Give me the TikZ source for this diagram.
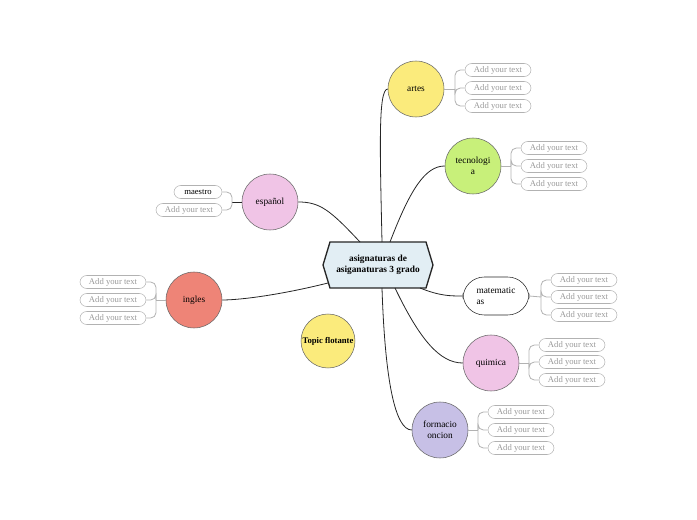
\documentclass[tikz,border=0pt]{standalone}
\usepackage{fontspec}
\setmainfont{Liberation Serif}
\begin{document}
\begin{tikzpicture}[x=0.75pt,y=-0.75pt,
 topic/.style={circle,draw=gray!80!black,minimum size=56*0.75pt,inner sep=0pt,font=\fontsize{7}{8}\selectfont,align=center},
 addbox/.style={draw=gray!60,rounded corners=5pt,minimum width=66*0.75pt,minimum height=13*0.75pt,inner sep=0pt,text=gray!80,font=\fontsize{6.5}{7}\selectfont},
 conn/.style={draw=gray!30!black,line width=0.6pt},
 br/.style={draw=gray!60,line width=0.6pt,rounded corners=4pt}]
\useasboundingbox (0,0) rectangle (697,520);
\definecolor{cyell}{HTML}{FBEB7C}\definecolor{cgreen}{HTML}{C8F07A}\definecolor{cpink}{HTML}{F0C4E6}
\definecolor{cred}{HTML}{EE8477}\definecolor{clav}{HTML}{C7C0E6}\definecolor{chex}{HTML}{E2EEF4}
\draw[fill=chex,draw=gray!30!black,line width=1pt] (330,242)--(426,242)--(433,265)--(426,288)--(330,288)--(323,265)--cycle;
\node[font=\bfseries\fontsize{7}{8}\selectfont,align=center] (c) at (378,265) {asignaturas de\\asiganaturas 3 grado};
\node[topic,fill=cyell] (ar) at (416,89) {artes};
\node[topic,fill=cgreen] (te) at (473,166) {tecnologi\\a};
\node[topic,fill=cpink] (es) at (270,202) {español};
\node[topic,fill=cred] (in) at (194,300) {ingles};
\node[draw=gray!30!black,rounded corners=16pt,minimum width=66*0.75pt,minimum height=38*0.75pt,fill=white,font=\fontsize{7}{8}\selectfont,align=left] (ma) at (496,296) {matematic\\as};
\node[topic,fill=cpink] (qu) at (491,363) {quimica};
\node[topic,fill=clav] (fo) at (440,430) {formacio\\oncion};
\node[topic,fill=cyell,minimum size=54*0.75pt,font=\bfseries\fontsize{6.5}{7}\selectfont] (tf) at (328,341) {Topic flotante};
\draw[conn] (382,242) .. controls (380,150) and (378,89) .. (ar.west);
\draw[conn] (390,242) .. controls (410,190) and (425,166) .. (te.west);
\draw[conn] (360,242) .. controls (330,210) and (320,202) .. (es.east);
\draw[conn] (328,283) .. controls (280,295) and (240,300) .. (in.east);
\draw[conn] (420,288) .. controls (440,296) and (450,296) .. (ma.west);
\draw[conn] (395,288) .. controls (420,340) and (440,363) .. (qu.west);
\draw[conn] (382,288) .. controls (385,380) and (395,430) .. (fo.west);
\foreach \n/\x/\ys/\cy/\o in {a/498/{70,88,106}/89/ar, t/554/{148,166,184}/166/te, m/584/{280,297,315}/297/ma, q/572/{345,362,380}/363/qu, f/521/{412,430,448}/430/fo}{
 \foreach \y [count=\i] in \ys {\node[addbox] (\n\i) at (\x,\y) {Add your text};}
 \coordinate (\n j) at ({\x-43},\cy);
 \draw[conn,draw=gray!60] (\o.east) -- (\n j);
 \foreach \i in {1,2,3}{\draw[br] (\n j) |- (\n\i.west);}
}
\foreach \y [count=\i] in {282,300,318} {\node[addbox] (i\i) at (113,\y) {Add your text};}
\coordinate (ij) at (156,300);
\draw[conn,draw=gray!60] (in.west)--(ij);
\foreach \i in {1,2,3}{\draw[br] (ij) |- (i\i.east);}
\node[addbox,text=black,minimum width=48*0.75pt] (e1) at (198,192) {maestro};
\node[addbox] (e2) at (189,210) {Add your text};
\coordinate (ej) at (232,202);
\draw[conn,draw=gray!30!black] (es.west)--(ej);
\draw[br] (ej) |- (e1.east); \draw[br] (ej) |- (e2.east);
\end{tikzpicture}
\end{document}
